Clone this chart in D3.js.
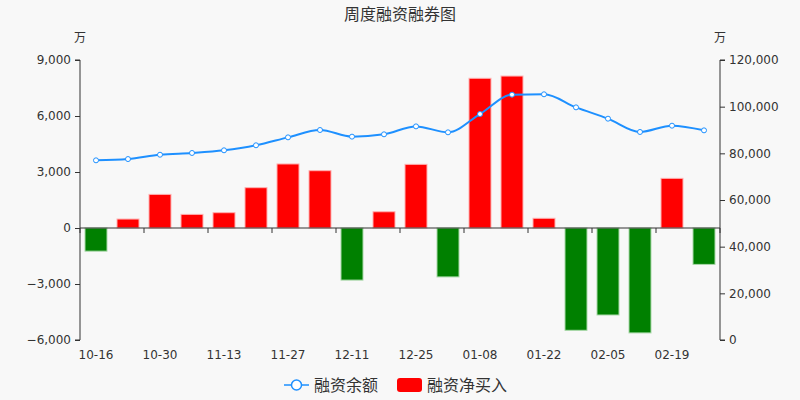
<!DOCTYPE html>
<html lang="zh">
<head>
<meta charset="utf-8">
<title>周度融资融券图</title>
<script src="https://cdn.jsdelivr.net/npm/d3@7/dist/d3.min.js"></script>
<style>
  body { margin: 0; background: #f8f8f8; }
  svg text { fill: #333; }
</style>
</head>
<body>
<div id="chart"></div>
<script>
// weekly dates (every week), labels shown every other one
var weeks = ['10-16','10-23','10-30','11-06','11-13','11-20','11-27','12-04','12-11','12-18',
             '12-25','01-01','01-08','01-15','01-22','01-29','02-05','02-12','02-19','02-26'];
// 融资净买入 (万)
var netBuy = [-1240, 480, 1800, 730, 820, 2160, 3430, 3070, -2790, 870,
              3410, -2620, 8020, 8140, 520, -5480, -4660, -5620, 2660, -1950];
// 融资余额 (万)
var balance = [77000, 77550, 79400, 80150, 81300, 83450, 86850, 90000, 87150, 88150,
               91550, 89000, 96850, 105150, 105300, 99700, 94850, 89150, 91850, 89850];
var leftTicks = [-6000, -3000, 0, 3000, 6000, 9000];
var rightTicks = [0, 20000, 40000, 60000, 80000, 100000, 120000];

var W = 800, H = 400;
var pLeft = 80, pRight = 720, pTop = 60, pBottom = 340;
var fontNum = '"DejaVu Sans", sans-serif';
var fontCJK = '"Noto Sans CJK SC", sans-serif';

var svg = d3.select('#chart').append('svg').attr('width', W).attr('height', H);
svg.append('rect').attr('width', W).attr('height', H).attr('fill', '#f8f8f8');

var x = d3.scaleBand().domain(weeks).range([pLeft, pRight]).paddingInner(0).paddingOuter(0);
var yL = d3.scaleLinear().domain([-6000, 9000]).range([pBottom, pTop]);
var yR = d3.scaleLinear().domain([0, 120000]).range([pBottom, pTop]);
var barW = 22;

// title
svg.append('text').attr('x', 400).attr('y', 20).attr('text-anchor', 'middle')
  .attr('font-family', fontCJK).attr('font-size', 16).text('周度融资融券图');

// units
svg.append('text').attr('x', pLeft).attr('y', 42).attr('text-anchor', 'middle')
  .attr('font-family', fontCJK).attr('font-size', 12).text('万');
svg.append('text').attr('x', pRight).attr('y', 42).attr('text-anchor', 'middle')
  .attr('font-family', fontCJK).attr('font-size', 12).text('万');

// bars
svg.append('g').selectAll('rect').data(netBuy).enter().append('rect')
  .attr('x', function(d, i) { return x(weeks[i]) + (x.bandwidth() - barW) / 2; })
  .attr('y', function(d) { return yL(Math.max(0, d)); })
  .attr('width', barW)
  .attr('height', function(d) { return Math.abs(yL(d) - yL(0)); })
  .attr('fill', function(d) { return d >= 0 ? '#ff0000' : '#008000'; })
  .attr('stroke', function(d) { return d >= 0 ? '#ffb0b0' : '#a8d8a8'; })
  .attr('stroke-width', 1);

// left axis
var axL = svg.append('g').attr('transform', 'translate(' + pLeft + ',0)')
  .call(d3.axisLeft(yL).tickValues(leftTicks).tickSize(5).tickPadding(4)
    .tickFormat(d3.format(',')));
axL.selectAll('text').attr('font-family', fontNum).attr('font-size', 12).attr('fill', '#333');
axL.selectAll('line, path').attr('stroke', '#333');
axL.select('.domain').attr('d', 'M-5,' + pTop + 'H0V' + pBottom + 'H-5');

// right axis
var axR = svg.append('g').attr('transform', 'translate(' + pRight + ',0)')
  .call(d3.axisRight(yR).tickValues(rightTicks).tickSize(5).tickPadding(4)
    .tickFormat(d3.format(',')));
axR.selectAll('text').attr('font-family', fontNum).attr('font-size', 12).attr('fill', '#333');
axR.selectAll('line, path').attr('stroke', '#333');
axR.select('.domain').attr('d', 'M5,' + pTop + 'H0V' + pBottom + 'H5');

// x axis at zero
var zeroY = yL(0);
var xg = svg.append('g');
xg.append('line').attr('x1', pLeft).attr('x2', pRight).attr('y1', zeroY).attr('y2', zeroY)
  .attr('stroke', '#333');
var tickIdx = d3.range(0, weeks.length + 1, 2);
xg.selectAll('.xt').data(tickIdx).enter().append('line')
  .attr('x1', function(k) { return pLeft + k * x.bandwidth(); })
  .attr('x2', function(k) { return pLeft + k * x.bandwidth(); })
  .attr('y1', zeroY).attr('y2', zeroY + 5).attr('stroke', '#333');
svg.append('g').selectAll('text').data(weeks.filter(function(d, i) { return i % 2 === 0; }))
  .enter().append('text')
  .attr('x', function(d) { return x(d) + x.bandwidth() / 2; })
  .attr('y', pBottom + 19).attr('text-anchor', 'middle')
  .attr('font-family', fontNum).attr('font-size', 12).text(function(d) { return d; });

// balance line
var line = d3.line()
  .x(function(d, i) { return x(weeks[i]) + x.bandwidth() / 2; })
  .y(function(d) { return yR(d); })
  .curve(d3.curveMonotoneX);
svg.append('path').datum(balance).attr('d', line).attr('fill', 'none')
  .attr('stroke', '#1e90ff').attr('stroke-width', 2);
svg.append('g').selectAll('circle').data(balance).enter().append('circle')
  .attr('cx', function(d, i) { return x(weeks[i]) + x.bandwidth() / 2; })
  .attr('cy', function(d) { return yR(d); })
  .attr('r', 2.5).attr('fill', '#fff').attr('stroke', '#1e90ff').attr('stroke-width', 1);

// legend
var lg = svg.append('g').attr('transform', 'translate(0,385)');
lg.append('line').attr('x1', 284).attr('x2', 309).attr('y1', 0).attr('y2', 0)
  .attr('stroke', '#1e90ff').attr('stroke-width', 1.5);
lg.append('circle').attr('cx', 296.5).attr('cy', 0).attr('r', 5)
  .attr('fill', '#fff').attr('stroke', '#1e90ff').attr('stroke-width', 1.5);
lg.append('text').attr('x', 314).attr('y', 6).attr('font-family', fontCJK)
  .attr('font-size', 16).text('融资余额');
lg.append('rect').attr('x', 397).attr('y', -7).attr('width', 25).attr('height', 14)
  .attr('rx', 3).attr('fill', '#ff0000');
lg.append('text').attr('x', 427).attr('y', 6).attr('font-family', fontCJK)
  .attr('font-size', 16).text('融资净买入');
</script>
</body>
</html>
